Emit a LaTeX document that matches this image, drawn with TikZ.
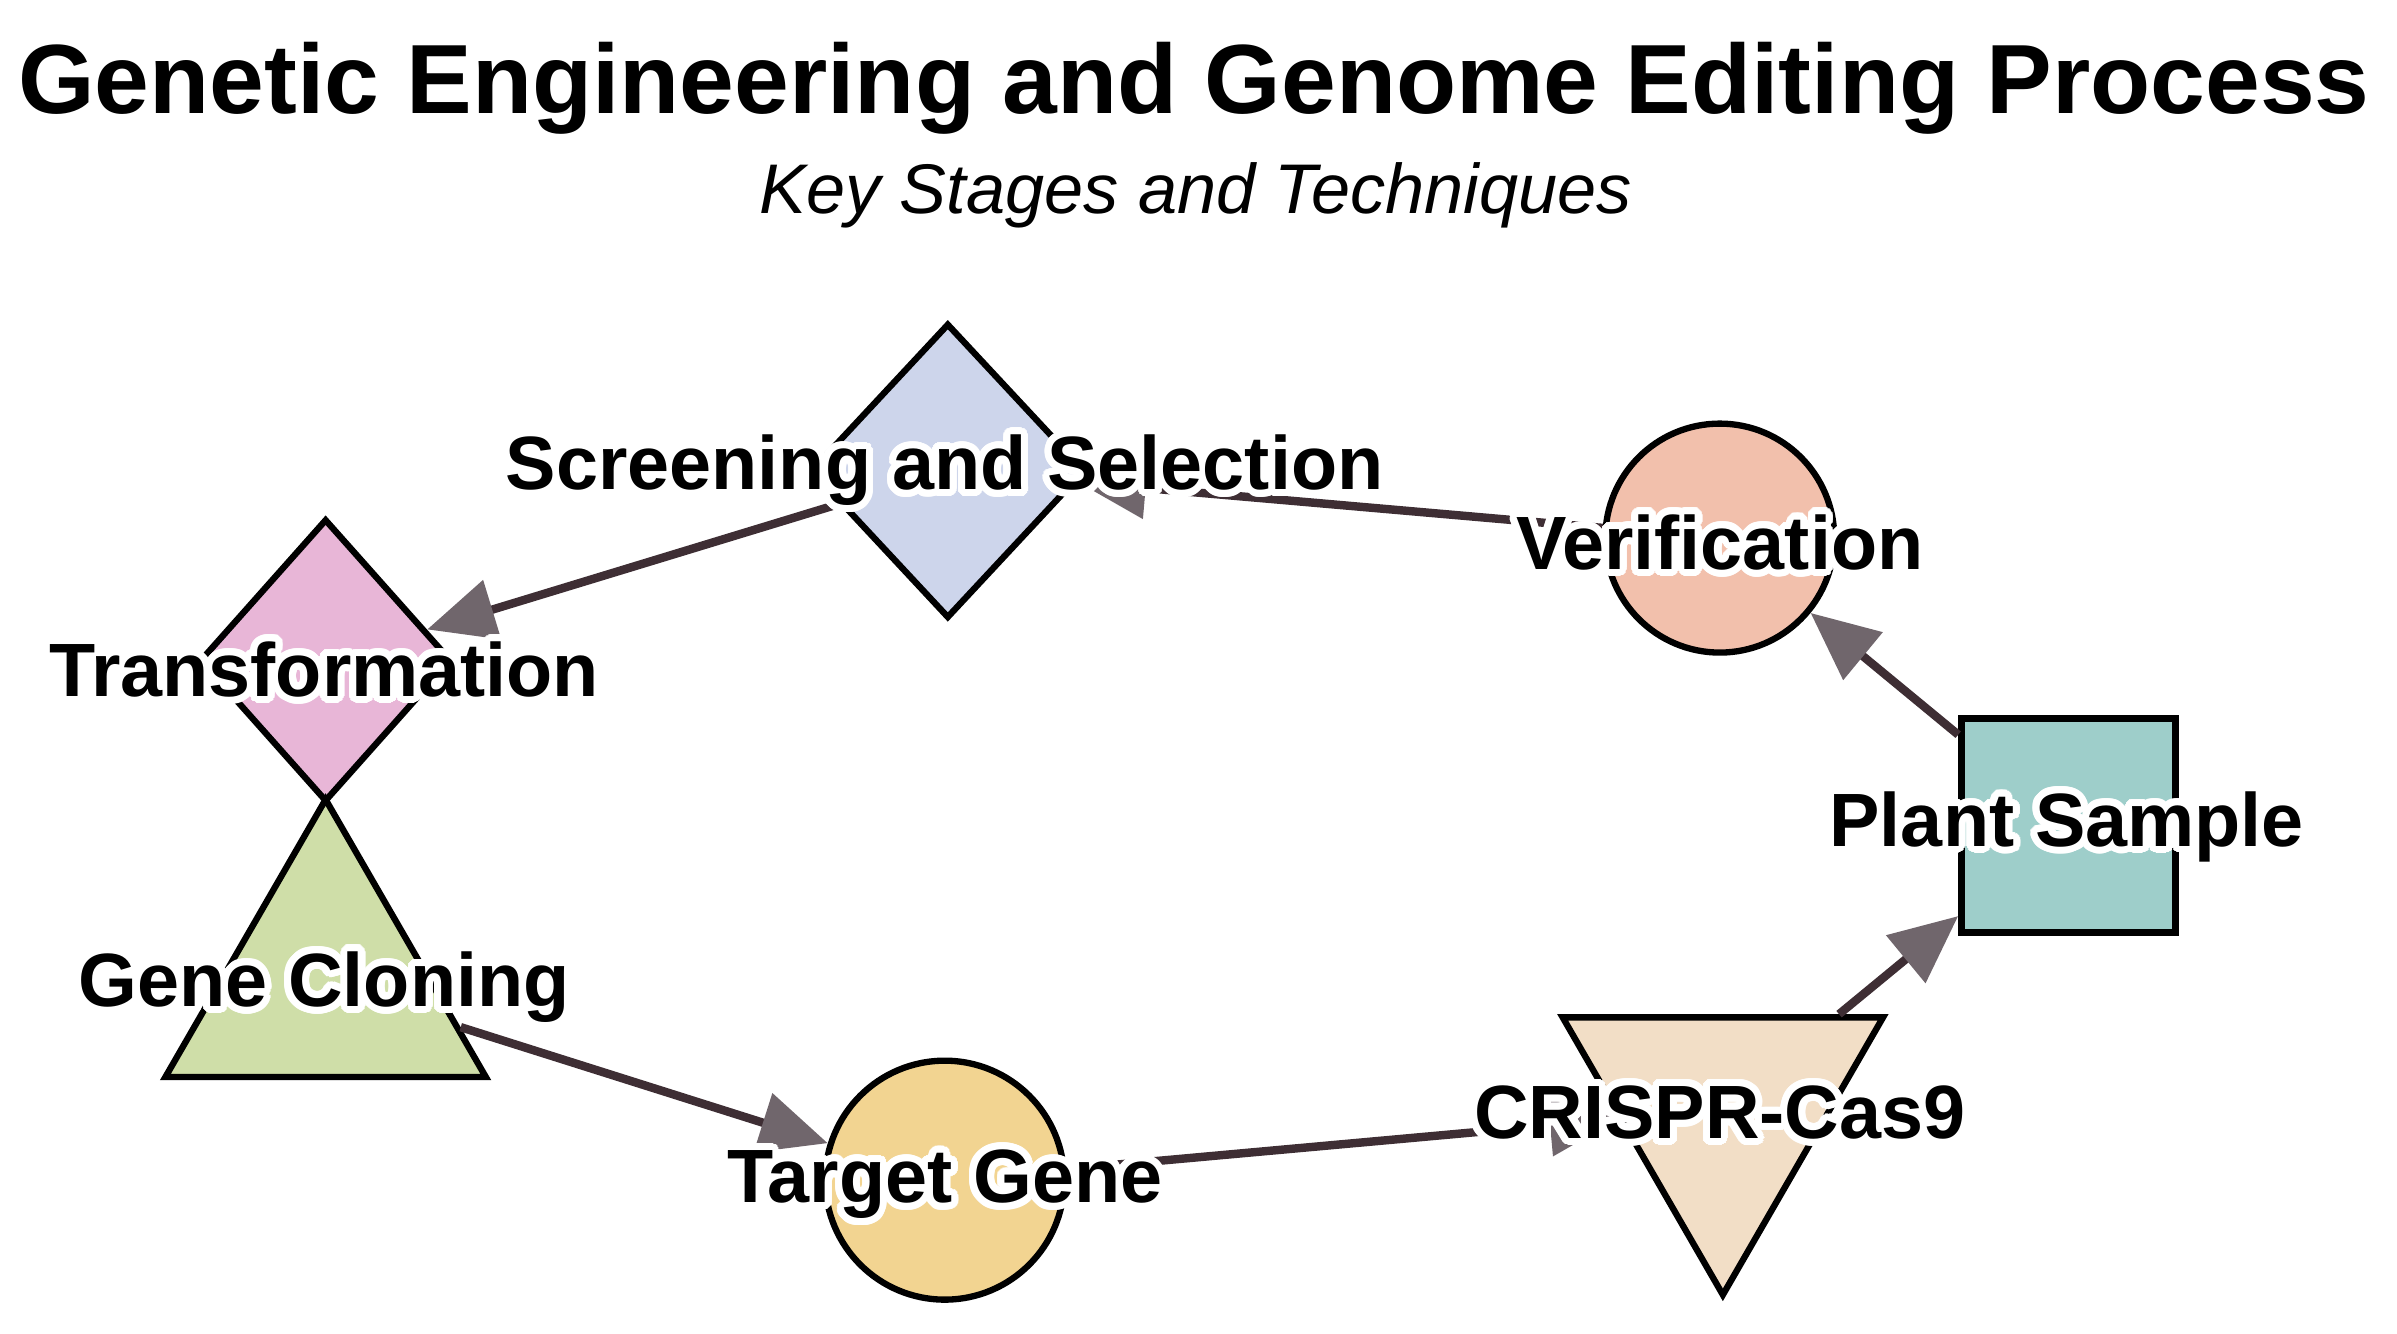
\documentclass[tikz,border=0pt]{standalone}
\usepackage{fontspec}
\setmainfont{Liberation Sans}
\usepackage{contour}
\contourlength{2pt}
\contournumber{32}
\usetikzlibrary{shapes.geometric,arrows.meta,backgrounds}
\definecolor{scrcol}{RGB}{205,213,235}
\definecolor{trfcol}{RGB}{232,182,215}
\definecolor{clncol}{RGB}{207,222,168}
\definecolor{tgtcol}{RGB}{242,212,145}
\definecolor{crpcol}{RGB}{242,222,198}
\definecolor{plncol}{RGB}{158,206,202}
\definecolor{vercol}{RGB}{242,192,172}
\definecolor{edgecol}{RGB}{62,46,52}
\definecolor{tipcol}{RGB}{112,102,108}
\tikzset{
  shp/.style={draw=black,line width=1.8pt,inner sep=0pt},
  lbl/.style={font=\fontsize{21.5}{24}\selectfont\bfseries},
  edge/.style={draw=edgecol,line width=2.4pt,
    -{Triangle[length=0.68cm,width=0.6cm,color=tipcol]}}
}
\newcommand{\halo}[1]{\contour{white}{#1}}
\begin{document}
\begin{tikzpicture}[x=0.01529cm,y=-0.01529cm]
	\useasboundingbox (0,0) rectangle (1568,872);
	\node[font=\fontsize{28}{32}\selectfont\bfseries] (title) at (781,58) {Genetic Engineering and Genome Editing Process};
	\node[font=\fontsize{20}{24}\selectfont\itshape] (sub) at (782,128) {Key Stages and Techniques};
	% shapes
	\node[shp,diamond,fill=scrcol,minimum width=2.75cm,minimum height=2.95cm] (scr) at (620,308) {};
	\node[shp,diamond,fill=trfcol,minimum width=2.52cm,minimum height=2.83cm] (trf) at (213,432) {};
	\node[shp,regular polygon,regular polygon sides=3,fill=clncol,minimum size=3.7cm] (cln) at (213,644) {};
	\node[shp,circle,fill=tgtcol,minimum size=2.39cm] (tgt) at (618,772) {};
	\node[shp,regular polygon,regular polygon sides=3,shape border rotate=180,fill=crpcol,minimum size=3.7cm] (crp) at (1127,726) {};
	\node[shp,rectangle,fill=plncol,minimum size=2.14cm] (pln) at (1353,540) {};
	\node[shp,circle,fill=vercol,minimum size=2.29cm] (ver) at (1125,352) {};
	% connectors
	\begin{scope}[on background layer]
		\draw[edge] (trf) -- (cln.north);
	\end{scope}
	\draw[edge] (cln) -- (tgt);
	\draw[edge] (tgt) -- (crp);
	\draw[edge] (crp) -- (pln);
	\draw[edge] (pln) -- (ver);
	\draw[edge] (ver) -- (scr);
	\draw[edge] (scr) -- (trf);
	% labels
	\node[lbl] (scrl) at (618,310) {\halo{Screening and Selection}};
	\node[lbl] (trfl) at (212,440) {\halo{Transformation}};
	\node[lbl] (clnl) at (212,648) {\halo{Gene Cloning}};
	\node[lbl] (tgtl) at (618,777) {\halo{Target Gene}};
	\node[lbl] (crpl) at (1125,730) {\halo{CRISPR-Cas9}};
	\node[lbl] (plnl) at (1352,543) {\halo{Plant Sample}};
	\node[lbl] (verl) at (1125,357) {\halo{Verification}};
\end{tikzpicture}
\end{document}
